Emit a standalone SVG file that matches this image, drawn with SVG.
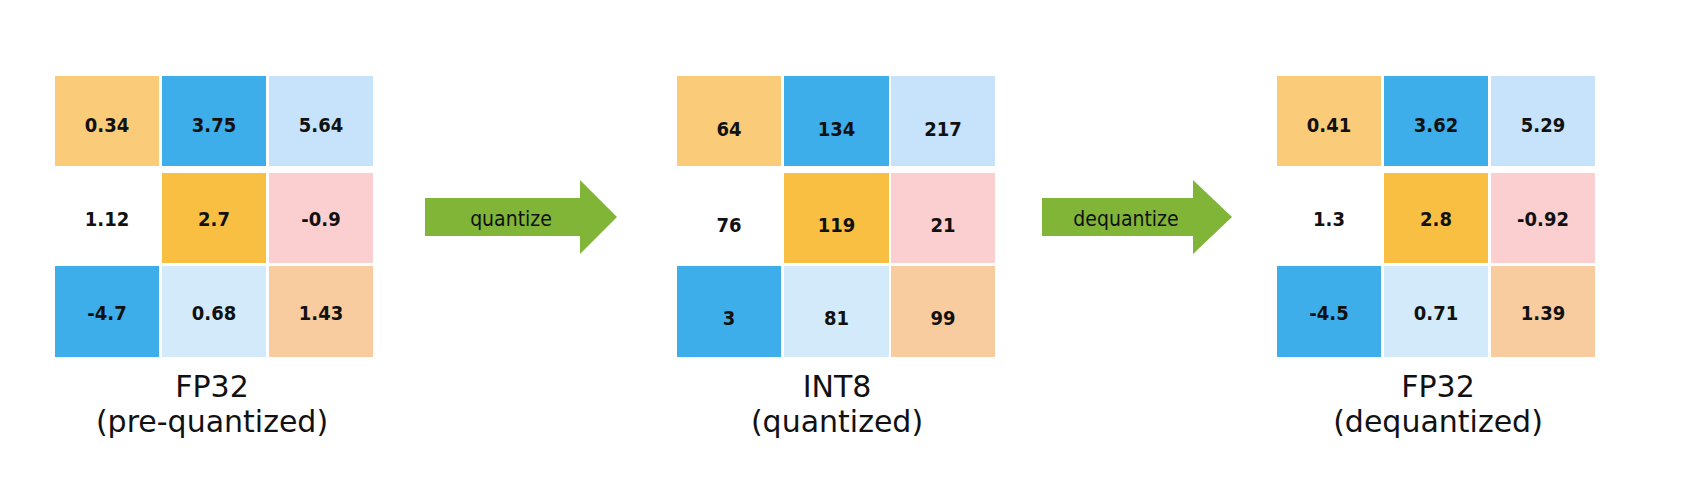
<svg xmlns="http://www.w3.org/2000/svg" width="1688" height="484" viewBox="0 0 1688 484">
<style>
.o{fill:#FACC79}.b{fill:#3DAEEA}.lb{fill:#C6E3FB}.g{fill:#F9BF42}.p{fill:#FBCFCF}.vb{fill:#D3EAFB}.pe{fill:#F8CC9E}
.n{font-family:"DejaVu Sans Condensed","DejaVu Sans",sans-serif;font-weight:bold;font-size:20px;fill:#111;text-anchor:middle}
.lbl{font-family:"DejaVu Sans",sans-serif;font-size:30px;fill:#111;text-anchor:middle}
.arr{fill:#80B538}
.at{font-family:"DejaVu Sans Condensed","DejaVu Sans",sans-serif;font-size:21px;fill:#111;text-anchor:middle}
</style>
<rect width="1688" height="484" fill="#ffffff"/>

<g id="fp32-pre">
<rect class="o" x="55" y="76" width="104" height="90"/>
<rect class="b" x="162" y="76" width="104" height="90"/>
<rect class="lb" x="269" y="76" width="104" height="90"/>
<rect class="g" x="162" y="173" width="104" height="90"/>
<rect class="p" x="269" y="173" width="104" height="90"/>
<rect class="b" x="55" y="266" width="104" height="91"/>
<rect class="vb" x="162" y="266" width="104" height="91"/>
<rect class="pe" x="269" y="266" width="104" height="91"/>
<text class="n" x="107" y="131.5">0.34</text>
<text class="n" x="214" y="131.5">3.75</text>
<text class="n" x="321" y="131.5">5.64</text>
<text class="n" x="107" y="226">1.12</text>
<text class="n" x="214" y="226">2.7</text>
<text class="n" x="321" y="226">-0.9</text>
<text class="n" x="107" y="320">-4.7</text>
<text class="n" x="214" y="320">0.68</text>
<text class="n" x="321" y="320">1.43</text>
<text class="lbl" x="212" y="397">FP32</text>
<text class="lbl" x="212" y="432">(pre-quantized)</text>
</g>

<g id="int8">
<rect class="o" x="677" y="76" width="104" height="90"/>
<rect class="b" x="784" y="76" width="105" height="90"/>
<rect class="lb" x="891" y="76" width="104" height="90"/>
<rect class="g" x="784" y="173" width="105" height="90"/>
<rect class="p" x="891" y="173" width="104" height="90"/>
<rect class="b" x="677" y="266" width="104" height="91"/>
<rect class="vb" x="784" y="266" width="105" height="91"/>
<rect class="pe" x="891" y="266" width="104" height="91"/>
<text class="n" x="729" y="136">64</text>
<text class="n" x="836.5" y="136">134</text>
<text class="n" x="943" y="136">217</text>
<text class="n" x="729" y="231.5">76</text>
<text class="n" x="836.5" y="231.5">119</text>
<text class="n" x="943" y="231.5">21</text>
<text class="n" x="729" y="325">3</text>
<text class="n" x="836.5" y="325">81</text>
<text class="n" x="943" y="325">99</text>
<text class="lbl" x="837" y="397">INT8</text>
<text class="lbl" x="837" y="432">(quantized)</text>
</g>

<g id="fp32-deq">
<rect class="o" x="1277" y="76" width="104" height="90"/>
<rect class="b" x="1384" y="76" width="104" height="90"/>
<rect class="lb" x="1491" y="76" width="104" height="90"/>
<rect class="g" x="1384" y="173" width="104" height="90"/>
<rect class="p" x="1491" y="173" width="104" height="90"/>
<rect class="b" x="1277" y="266" width="104" height="91"/>
<rect class="vb" x="1384" y="266" width="104" height="91"/>
<rect class="pe" x="1491" y="266" width="104" height="91"/>
<text class="n" x="1329" y="131.5">0.41</text>
<text class="n" x="1436" y="131.5">3.62</text>
<text class="n" x="1543" y="131.5">5.29</text>
<text class="n" x="1329" y="226">1.3</text>
<text class="n" x="1436" y="226">2.8</text>
<text class="n" x="1543" y="226">-0.92</text>
<text class="n" x="1329" y="320">-4.5</text>
<text class="n" x="1436" y="320">0.71</text>
<text class="n" x="1543" y="320">1.39</text>
<text class="lbl" x="1438" y="397">FP32</text>
<text class="lbl" x="1438" y="432">(dequantized)</text>
</g>

<g id="connectors">
<g id="quantize">
<polygon class="arr" points="425,198 580,198 580,180 617,217 580,254 580,236 425,236"/>
<text class="at" x="511" y="226">quantize</text>
</g>
<g id="dequantize">
<polygon class="arr" points="1042,198 1193,198 1193,180 1232,217 1193,254 1193,236 1042,236"/>
<text class="at" x="1126" y="226">dequantize</text>
</g>
</g>
</svg>
